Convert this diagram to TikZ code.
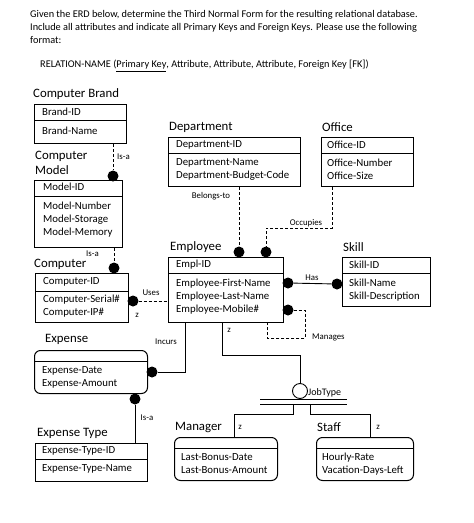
\documentclass[tikz,border=0pt]{standalone}
\usepackage{fontspec}
\setmainfont{Carlito}
\usetikzlibrary{positioning}

\begin{document}
\begin{tikzpicture}[x=1pt, y=-1pt,
    ebox/.style={draw, line width=1pt, anchor=north west, inner sep=0},
    rbox/.style={ebox, rounded corners=6pt},
    title/.style={anchor=west, inner sep=0, align=left, font=\fontsize{12.8}{15}\selectfont},
    attr/.style={anchor=west, inner sep=0, align=left, font=\fontsize{10.8}{13}\selectfont},
    rel/.style={inner sep=0, font=\fontsize{8.8}{10}\selectfont},
    dot/.style={circle, fill, inner sep=0, minimum size=11},
    link/.style={line width=0.9pt},
    dlink/.style={line width=0.9pt, dash pattern=on 3pt off 2pt}]
  \useasboundingbox (0,0) rectangle (474,523);

  % question text
  \node[anchor=west, inner sep=0, align=left, font=\fontsize{10.3}{13}\selectfont] (intro) at (30,27)
    {Given the ERD below, determine the Third Normal Form for the resulting relational database.\\
     Include all attributes and indicate all Primary Keys and Foreign Keys. Please use the following\\
     format:};
  \node[anchor=west, inner sep=0, font=\fontsize{10.3}{13}\selectfont] (fmt) at (40,66)
    {RELATION-NAME (\underline{Primary Key}, Attribute, Attribute, Attribute, Foreign Key [FK])};

  % Computer Brand
  \node[title] (brandt) at (33,94) {Computer Brand};
  \node[ebox, minimum width=92, minimum height=39] (brand) at (34,104) {};
  \draw[line width=1pt] (34,120) -- (126,120);
  \node[attr] (brandid) at (42,112) {Brand-ID};
  \node[attr] (brandname) at (42,131) {Brand-Name};

  % Computer Model
  \node[title] (modelt) at (35,163) {Computer\\Model};
  \node[ebox, minimum width=88, minimum height=67] (model) at (34,180) {};
  \draw[line width=1pt] (34,196) -- (122,196);
  \node[attr] (modelid) at (43,187) {Model-ID};
  \node[attr] (modelattr) at (43,220) {Model-Number\\Model-Storage\\Model-Memory};

  % Computer
  \node[title] (compt) at (34,264) {Computer};
  \node[ebox, minimum width=93, minimum height=49] (comp) at (35,273) {};
  \draw[line width=1pt] (35,291) -- (128,291);
  \node[attr] (compid) at (43,282) {Computer-ID};
  \node[attr] (compattr) at (43,306) {Computer-Serial\#\\Computer-IP\#};

  % Department
  \node[title] (deptt) at (169,127) {Department};
  \node[ebox, minimum width=132, minimum height=49] (dept) at (168,137) {};
  \draw[line width=1pt] (168,153) -- (300,153);
  \node[attr] (deptid) at (176,145) {Department-ID};
  \node[attr] (deptattr) at (176,169.5) {Department-Name\\Department-Budget-Code};

  % Office
  \node[title] (officet) at (322,127) {Office};
  \node[ebox, minimum width=92, minimum height=49] (office) at (321,137) {};
  \draw[line width=1pt] (321,153) -- (413,153);
  \node[attr] (officeid) at (327,145) {Office-ID};
  \node[attr] (officeattr) at (327,169.5) {Office-Number\\Office-Size};

  % Employee
  \node[title] (empt) at (170,247) {Employee};
  \node[ebox, minimum width=115, minimum height=65] (emp) at (168,257) {};
  \draw[line width=1pt] (168,273) -- (283,273);
  \node[attr] (empid) at (176,265) {Empl-ID};
  \node[attr] (empattr) at (176,297) {Employee-First-Name\\Employee-Last-Name\\Employee-Mobile\#};

  % Skill
  \node[title] (skillt) at (343,247) {Skill};
  \node[ebox, minimum width=88, minimum height=49] (skill) at (342,257) {};
  \draw[line width=1pt] (342,273) -- (430,273);
  \node[attr] (skillid) at (349,265) {Skill-ID};
  \node[attr] (skillattr) at (349,290) {Skill-Name\\Skill-Description};

  % Expense
  \node[title] (expt) at (45,339) {Expense};
  \node[rbox, minimum width=113, minimum height=43] (exp) at (34,350) {};
  \draw[line width=1pt] (34,361) -- (147,361);
  \node[attr] (expattr) at (42,377) {Expense-Date\\Expense-Amount};

  % Expense Type
  \node[title] (etypet) at (37,433) {Expense Type};
  \node[ebox, minimum width=112, minimum height=38] (etype) at (35,443) {};
  \draw[line width=1pt] (35,459) -- (147,459);
  \node[attr] (etypeid) at (42,451) {Expense-Type-ID};
  \node[attr] (etypename) at (42,469) {Expense-Type-Name};

  % Manager
  \node[title] (mgrt) at (175,427) {Manager};
  \node[rbox, minimum width=103, minimum height=43] (mgr) at (174,437) {};
  \draw[line width=1pt] (174,448) -- (277,448);
  \node[attr] (mgrattr) at (181,464) {Last-Bonus-Date\\Last-Bonus-Amount};

  % Staff
  \node[title] (stafft) at (317,427) {Staff};
  \node[rbox, minimum width=97, minimum height=43] (staff) at (316,437) {};
  \draw[line width=1pt] (316,448) -- (413,448);
  \node[attr] (staffattr) at (322,464) {Hourly-Rate\\Vacation-Days-Left};

  % relationship ends
  \node[dot] (dmodel) at (113,176) {};
  \node[dot] (dcomp) at (114,268) {};
  \node[dot] (duses) at (133,301) {};
  \node[dot] (dbelong) at (239,252) {};
  \node[dot] (doccupy) at (266,252) {};
  \node[dot] (dhasa) at (288,283) {};
  \node[dot] (dhasb) at (337,284) {};
  \node[dot] (dmanage) at (288,310) {};
  \node[dot] (dincur) at (152,372) {};
  \node[dot] (disa) at (135,399) {};
  \node[circle, draw, line width=0.9pt, inner sep=0, minimum size=15, fill=white] (job) at (300,391) {};

  \coordinate (occa) at (332,228);
  \coordinate (mana) at (305,338);
  \coordinate (manb) at (267,338);
  \coordinate (inca) at (185,372);
  \coordinate (za) at (222,355);
  \coordinate (bara) at (260,399);
  \coordinate (barb) at (347,399);
  \coordinate (barc) at (260,404);
  \coordinate (bard) at (347,404);
  \coordinate (mgra) at (293,404);
  \coordinate (mgrb) at (234,414);
  \coordinate (stfa) at (310,404);
  \coordinate (stfb) at (370,414);

  % connectors
  \draw[dlink] (dmodel |- brand.south) -- (dmodel);
  \draw[dlink] (dcomp |- model.south) -- (dcomp);
  \draw[dlink] (duses) -- (duses -| emp.west);
  \draw[dlink] (dbelong |- dept.south) -- (dbelong);
  \draw[dlink] (occa |- office.south) -- (occa) -| (doccupy);
  \draw[link] (dhasa) -- (dhasb);
  \draw[dlink] (dmanage) -| (mana) -- (manb) -- (manb |- emp.south);
  \draw[link] (inca |- emp.south) -- (inca) -- (dincur);
  \draw[link] (za |- emp.south) -- (za) -| (job.north);
  \draw[link] (bara) -- (barb);
  \draw[link] (barc) -- (bard);
  \draw[link] (mgra) |- (mgrb) -- (mgrb |- mgr.north);
  \draw[link] (stfa) |- (stfb) -- (stfb |- staff.north);
  \draw[link] (disa) -- (disa |- etype.north);

  % labels
  \node[rel, anchor=west] (lisaa) at (117,157) {Is-a};
  \node[rel, anchor=west] (lisab) at (86,254) {Is-a};
  \node[rel] (luses) at (151,293) {Uses};
  \node[rel] (lza) at (137,315) {z};
  \node[rel] (lbelong) at (211,196) {Belongs-to};
  \node[rel] (loccupy) at (306,223) {Occupies};
  \node[rel] (lhas) at (312,278) {Has};
  \node[rel, anchor=west] (lmanage) at (312,337) {Manages};
  \node[rel] (lincur) at (166,342) {Incurs};
  \node[rel] (lzb) at (229,330) {z};
  \node[rel] (lisac) at (147,418) {Is-a};
  \node[rel, anchor=west, font=\fontsize{10}{11}\selectfont] (ljob) at (308,393) {JobType};
  \node[rel] (lzc) at (240,427) {z};
  \node[rel] (lzd) at (378,427) {z};
\end{tikzpicture}
\end{document}
